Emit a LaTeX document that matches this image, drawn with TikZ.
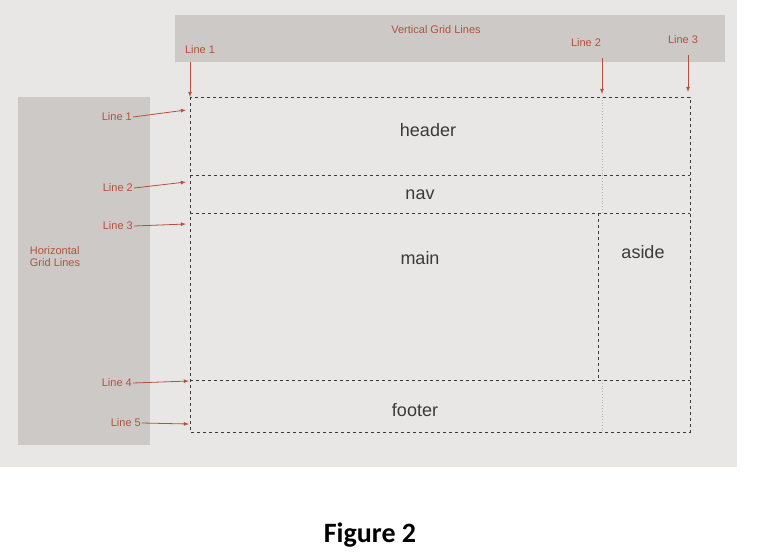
\documentclass[tikz,border=0pt]{standalone}
\usepackage{fontspec}
\setmainfont{Liberation Sans}
\newfontfamily\figfont{Carlito}
\definecolor{photo}{HTML}{E9E7E5}
\definecolor{band}{HTML}{CCC9C6}
\definecolor{redt}{HTML}{B4513C}
\definecolor{box}{HTML}{3A3A3A}
\begin{document}
\begin{tikzpicture}[x=1pt,y=-1pt,
  lab/.style={text=redt,font=\fontsize{11}{12}\selectfont,inner sep=1pt},
  part/.style={text=box,font=\fontsize{18}{20}\selectfont},
  grid/.style={draw=box,dashed,line width=0.9pt},
  arr/.style={draw=redt,line width=0.8pt,-latex}]
\useasboundingbox (0,0) rectangle (767,554);
\fill[photo] (0,0) rectangle (737,467);
\fill[band] (175,15) rectangle (725,62);
\fill[band] (18,97) rectangle (150,445);
\node[lab] (vt) at (436,30) {Vertical Grid Lines};
\node[lab] (v1) at (200,50) {Line 1};
\node[lab] (v2) at (586,43) {Line 2};
\node[lab] (v3) at (683,40) {Line 3};
\node[lab,align=left] (hz) at (55,257) {Horizontal\\Grid Lines};
\node[lab,anchor=east] (h1) at (133,117) {Line 1};
\node[lab,anchor=east] (h2) at (134,188) {Line 2};
\node[lab,anchor=east] (h3) at (134,226) {Line 3};
\node[lab,anchor=east] (h4) at (133,383) {Line 4};
\node[lab,anchor=east] (h5) at (142,423) {Line 5};
\coordinate (tv1) at (190,97); \coordinate (tv2) at (602,94); \coordinate (tv3) at (688,92);
\coordinate (th1) at (186,110); \coordinate (th2) at (186,182); \coordinate (th3) at (186,224);
\coordinate (th4) at (189,381); \coordinate (th5) at (189,424);
\draw[arr] (190,62) -- (tv1);
\draw[arr] (602,58) -- (tv2);
\draw[arr] (688,55) -- (tv3);
\draw[arr] (h1.east) -- (th1);
\draw[arr] (h2.east) -- (th2);
\draw[arr] (h3.east) -- (th3);
\draw[arr] (h4.east) -- (th4);
\draw[arr] (h5.east) -- (th5);
\draw[grid] (190,97) rectangle (690,432);
\draw[grid] (190,175) -- (690,175);
\draw[grid] (190,213) -- (690,213);
\draw[grid] (190,380) -- (690,380);
\draw[grid] (598,213) -- (598,380);
\draw[draw=gray!60,dotted,line width=0.8pt] (602,97) -- (602,213) (602,380) -- (602,432);
\node[part] (header) at (428,130) {header};
\node[part] (nav) at (420,195) {nav};
\node[part] (main) at (420,258) {main};
\node[part] (aside) at (643,252) {aside};
\node[part] (footer) at (415,410) {footer};
\node[font=\figfont\bfseries\fontsize{28}{32}\selectfont] (fig) at (370,535) {Figure 2};
\end{tikzpicture}
\end{document}
